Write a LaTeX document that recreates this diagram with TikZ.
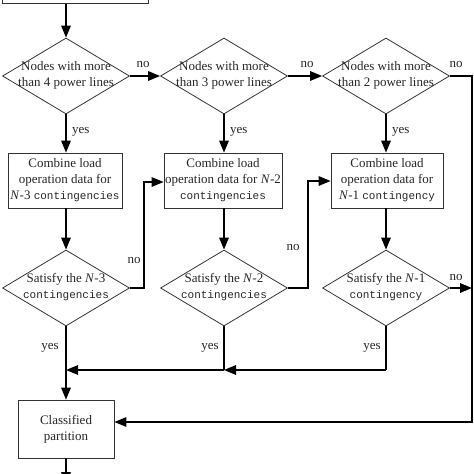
\documentclass[tikz,border=0pt]{standalone}
\usepackage{fontspec}
\setmainfont{Liberation Serif}
\setmonofont{Liberation Mono}
\usetikzlibrary{shapes.geometric,arrows.meta}
\newcommand{\mono}[1]{{\fontsize{11}{15}\selectfont\ttfamily #1}}
\begin{document}
\begin{tikzpicture}[x=1pt,y=-1pt,
  every node/.style={font=\fontsize{13}{16}\selectfont, text=black!85},
  dia/.style={draw=black!80, line width=0.8pt, diamond, inner sep=0pt, minimum width=127pt, minimum height=76pt},
  bx/.style={draw=black!80, line width=0.8pt, rectangle, inner sep=0pt, minimum height=55pt},
  txt/.style={align=center, inner sep=0pt, font=\fontsize{13}{16}\selectfont},
  conn/.style={line width=1.6pt, -{Triangle[length=12pt,width=9.5pt]}},
  plain/.style={line width=1.6pt},
  lbl/.style={inner sep=0pt}
]
\useasboundingbox (0,0) rectangle (474,474);

% top box (cut off)
\node[bx, minimum width=146pt, minimum height=40pt, anchor=south west] (top) at (2,4) {};

% first row diamonds
\node[dia] (d1) at (66,76) {};
\node[txt] (d1t) at (66,75.5) {Nodes with more\\than 4 power lines};
\node[dia] (d2) at (224,76) {};
\node[txt] (d2t) at (224,75.5) {Nodes with more\\than 3 power lines};
\node[dia] (d3) at (386,76) {};
\node[txt] (d3t) at (386,75.5) {Nodes with more\\than 2 power lines};

% boxes
\node[bx, minimum width=114pt] (b1) at (65,180.5) {};
\node[txt] (b1t) at (65,180.5) {Combine load\\operation data for\\\textit{N}-3 \mono{contingencies}};
\node[bx, minimum width=118pt] (b2) at (223,180.5) {};
\node[txt] (b2t) at (223,180.5) {Combine load\\operation data for \textit{N}-2\\\mono{contingencies}};
\node[bx, minimum width=112pt] (b3) at (387,180.5) {};
\node[txt] (b3t) at (387,180.5) {Combine load\\operation data for\\\textit{N}-1 \mono{contingency}};

% second row diamonds
\node[dia] (d4) at (66,288) {};
\node[txt] (d4t) at (66,287.5) {Satisfy the \textit{N}-3\\\mono{contingencies}};
\node[dia] (d5) at (224,288) {};
\node[txt] (d5t) at (224,287.5) {Satisfy the \textit{N}-2\\\mono{contingencies}};
\node[dia] (d6) at (386,288) {};
\node[txt] (d6t) at (386,287.5) {Satisfy the \textit{N}-1\\\mono{contingency}};

% classified partition
\node[bx, minimum width=96pt, minimum height=58pt] (cp) at (66,429) {};
\node[txt] (cpt) at (66,429) {Classified\\partition};

% coordinates
\coordinate (r1) at (472,76);
\coordinate (r2) at (472,422);
\coordinate (n4) at (144,182);
\coordinate (n5) at (308,181);
\coordinate (m4) at (66,370);
\coordinate (m5) at (224,370);
\coordinate (m6) at (386,370);
\coordinate (bot) at (66,484);

% connectors
\draw[conn] (top.south -| d1.north) -- (d1.north);
\draw[conn] (d1.east) -- (d2.west);
\draw[conn] (d2.east) -- (d3.west);
\draw[conn] (d3.east) -- (r1) -- (r2) -- (r2 -| cp.east);
\draw[conn] (d1.south) -- (b1.north -| d1.south);
\draw[conn] (d2.south) -- (b2.north -| d2.south);
\draw[conn] (d3.south) -- (b3.north -| d3.south);
\draw[conn] (b1.south -| d4.north) -- (d4.north);
\draw[conn] (b2.south -| d5.north) -- (d5.north);
\draw[conn] (b3.south -| d6.north) -- (d6.north);
\draw[conn] (d4.east) -| (n4) -- (n4 -| b2.west);
\draw[conn] (d5.east) -| (n5) -- (n5 -| b3.west);
\draw[conn] (d6.east) -- (d6.east -| r1);
\draw[plain] (d6.south) -- (m6);
\draw[conn] (m6) -- (m5);
\draw[plain] (d5.south) -- (m5);
\draw[conn] (m5) -- (m4);
\draw[conn] (d4.south) -- (cp.north);
\draw[conn] (cp.south) -- (bot);

% labels
\node[lbl] (l1) at (143,64) {no};
\node[lbl] (l2) at (307,64) {no};
\node[lbl] (l3) at (456,64) {no};
\node[lbl, anchor=west] (y1) at (72,132) {yes};
\node[lbl, anchor=west] (y2) at (230,132) {yes};
\node[lbl, anchor=west] (y3) at (392,132) {yes};
\node[lbl] (l4) at (134,260) {no};
\node[lbl] (l5) at (293,247) {no};
\node[lbl] (l6) at (456,277) {no};
\node[lbl] (y4) at (50,348) {yes};
\node[lbl] (y5) at (210,348) {yes};
\node[lbl] (y6) at (372,348) {yes};
\end{tikzpicture}
\end{document}
